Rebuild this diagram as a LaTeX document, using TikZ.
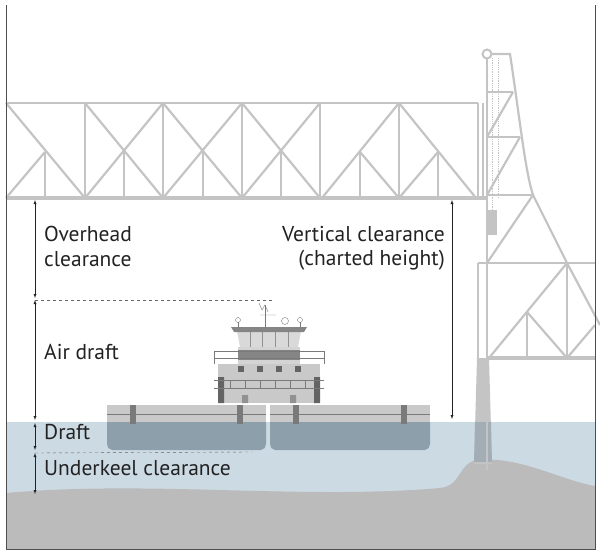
\documentclass[tikz,border=0pt]{standalone}
\usepackage{fontspec}
\setmainfont{PT Sans}
\usetikzlibrary{calc, arrows}
\definecolor{steel}{HTML}{C4C4C4}
\definecolor{water}{HTML}{CCDAE4}
\definecolor{ground}{HTML}{BBBBBB}
\definecolor{hull}{HTML}{8E9FAC}
\definecolor{deck}{HTML}{C9C9C9}
\definecolor{ink}{HTML}{222222}
\tikzstyle{truss}  = [steel, line width=2.2pt]
\tikzstyle{chord}  = [steel, line width=4pt]
\tikzstyle{dim}    = [ink, thin, <->, >=latex]
\tikzstyle{guide}  = [ink!70, dashed, thin]
\tikzstyle{label}  = [ink, anchor=north west, align=left, font=\fontsize{21.5}{24.5}\selectfont, inner sep=0pt]

\begin{document}
\begin{tikzpicture}[x=1pt, y=-1pt]
    \useasboundingbox (0,0) rectangle (600,559);
    % water and river bed
    \fill[water] (6,422) rectangle (595,549);
    \fill[ground] (6,493) .. controls (150,480) and (300,500) .. (440,488)
        .. controls (462,486) and (458,462) .. (478,460)
        .. controls (520,456) and (560,480) .. (595,486) -- (595,549) -- (6,549) -- cycle;
    % pier
    \fill[steel] (477,358) -- (489,358) -- (492,464) -- (474,464) -- cycle;
    \fill[hull, opacity=.6] (475,422) -- (491,422) -- (492,462) -- (474,462) -- cycle;

    % main span
    \draw[truss] (6,103) -- (478,103);
    \draw[chord] (6,198) -- (487,198);
    \foreach \x in {85,163,242,320,399,478}
        \draw[truss] (\x,103) -- (\x,198);
    \foreach \x in {45,124,203,281,360,438}
        \draw[truss] (\x,152) -- (\x,198);
    \draw[truss] (6,103) -- (85,198);
    \draw[truss] (6,198) -- (45,152);
    \draw[truss] (85,103) -- (163,198) (163,103) -- (85,198);
    \draw[truss] (163,103) -- (242,198) (242,103) -- (163,198);
    \draw[truss] (242,103) -- (320,198) (320,103) -- (242,198);
    \draw[truss] (399,103) -- (322,198) (360,152) -- (399,198);
    \draw[truss] (399,103) -- (476,198) (399,198) -- (438,152);
    \draw[truss] (483,103) -- (483,198);

    % tower
    \draw[truss] (487,54) -- (487,470);
    \draw[truss] (487,54) -- (510,54) .. controls (520,120) and (525,170) .. (533,195)
        -- (567,263) -- (600,325);
    \draw[truss] (487,92) -- (513,92) (487,137) -- (520,137) (487,195) -- (533,195);
    \draw[truss] (487,137) -- (513,92) (487,195) -- (520,137) (487,263) -- (533,195);
    \draw[steel, densely dotted, thick] (492,58) -- (492,210) (498,58) -- (498,198);
    \fill[steel] (487,210) rectangle (497,235);
    \draw[steel, line width=2pt, fill=white] (487,54) circle (4.5);

    % side span
    \draw[truss] (478,263) -- (595,263);
    \draw[chord] (487,358) -- (595,358);
    \draw[truss] (478,263) -- (478,358) (567,263) -- (567,358) (527,312) -- (527,358);
    \draw[truss] (489,358) -- (567,263) (527,312) -- (567,358) (567,358) -- (595,325);

    % barges
    \foreach \bx/\ex in {107/266, 270/430} {
        \fill[deck] (\bx,405) -- (\ex,405) -- (\ex,422) -- (\bx,422) -- cycle;
        \fill[hull] (\bx,422) -- (\ex,422) -- (\ex,444) to[out=-90,in=0] (\ex-5,450)
            -- (\bx+5,450) to[out=180,in=-90] (\bx,444) -- cycle;
        \draw[ink!60, thick] (\bx,414) -- (\ex,414);
        \fill[ink!60] (\bx+23,405) rectangle (\bx+29,424);
        \fill[ink!60] (\ex-29,405) rectangle (\ex-23,424);
    }
    % towboat
    \fill[deck] (218,364) rectangle (320,403);
    \fill[ink!70] (218,377) rectangle (224,403) (314,377) rectangle (320,403);
    \draw[ink!60] (214,380) -- (324,380) (214,388) -- (324,388);
    \foreach \x in {230,245,260,275,290,305}
        \draw[ink!60] (\x,380) -- (\x,388);
    \foreach \x in {241,260,279,298}
        \fill[ink!70] (\x-3,366) rectangle (\x+3,372);
    \fill[ink!50] (242,395) rectangle (248,403) (290,395) rectangle (296,403);
    \fill[deck!80] (238,347) rectangle (300,364);
    \fill[ink!55] (238,350) rectangle (300,360);
    \draw[ink!60] (214,351) -- (324,351) (214,358) -- (324,358) (214,351) -- (214,364) (324,351) -- (324,364);
    \fill[deck!70] (237,331) -- (301,331) -- (298,347) -- (240,347) -- cycle;
    \foreach \x in {250,262,275,288}
        \draw[ink!50] (\x,331) -- (\x,347);
    \fill[ink!55] (231,327) -- (307,327) -- (304,332) -- (234,332) -- cycle;
    \draw[ink!60] (238,327) -- (238,322) (300,327) -- (300,322) (265,327) -- (265,305);
    \draw[ink!60] (238,320) circle (2.5) (300,320) circle (2.5) (285,321) circle (3.5);
    \draw[ink!60] (260,315) -- (276,315) (259,303) -- (262,310) -- (265,305) -- (268,312);

    % dimensions
    \coordinate (oh1) at (35,200);  \coordinate (oh2) at (35,298);
    \coordinate (ad1) at (35,300);  \coordinate (ad2) at (35,420);
    \coordinate (dr1) at (35,423);  \coordinate (dr2) at (35,450);
    \coordinate (uk1) at (35,453);  \coordinate (uk2) at (35,494);
    \coordinate (vc1) at (452,200); \coordinate (vc2) at (452,419);
    \draw[dim] (oh1) -- (oh2);
    \draw[dim] (ad1) -- (ad2);
    \draw[dim] (dr1) -- (dr2);
    \draw[dim] (uk1) -- (uk2);
    \draw[dim] (vc1) -- (vc2);
    \draw[guide] (ad1) -- (272,300);
    \draw[guide] (uk1) -- (252,452);

    \node (oh) [label] at (44,226) {Overhead\\clearance};
    \node (ad) [label] at (44,344) {Air draft};
    \node (dr) [label] at (44,424) {Draft};
    \node (uk) [label] at (44,460) {Underkeel clearance};
    \node (vc) [label, anchor=north east, align=right] at (445,226) {Vertical clearance\\(charted height)};

    % frame
    \draw[ink!80, thick] (6,5) -- (6,549) -- (595,549) -- (595,5);
\end{tikzpicture}
\end{document}
